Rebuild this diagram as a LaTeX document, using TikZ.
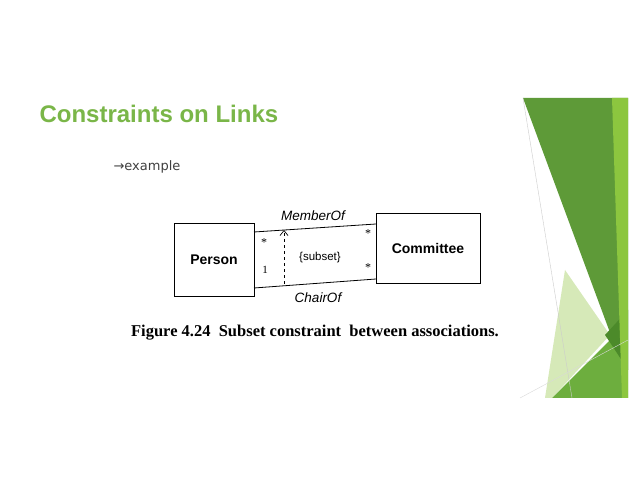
\documentclass[tikz,border=0pt]{standalone}
\usepackage{fontspec}
\usetikzlibrary{arrows.meta}
\setmainfont{Liberation Serif}
\setsansfont{Liberation Sans}
\newfontfamily\djfont{DejaVu Sans}
\definecolor{gdark}{HTML}{5E9A38}
\definecolor{gmid}{HTML}{6DAE3E}
\definecolor{glime}{HTML}{8CC63F}
\definecolor{gpale}{HTML}{D6E9B8}
\definecolor{gdeep}{HTML}{4C8A2A}
\definecolor{gtitle}{HTML}{7AB648}
\begin{document}
\begin{tikzpicture}[x=1pt,y=-1pt,
  box/.style={draw,line width=0.9pt,inner sep=0pt},
  lbl/.style={font=\sffamily\itshape\fontsize{13.5}{15}\selectfont},
  mult/.style={font=\fontsize{12}{13}\selectfont}]
\useasboundingbox (0,0) rectangle (638,478);
\fill[white] (0,0) rectangle (638,478);
% decorative panel
\fill[gpale] (565,270) -- (610,335) -- (552,398) -- (545,398) -- cycle;
\fill[gdark] (523,98) -- (628,98) -- (628,370) -- (612,338) -- cycle;
\fill[gmid] (552,398) -- (612,338) -- (628,370) -- (628,398) -- cycle;
\fill[gdeep] (605,335) -- (628,310) -- (628,370) -- (615,350) -- cycle;
\fill[glime] (612,98) -- (628,98) -- (628,398) -- (622,398) -- cycle;
\draw[black!20] (523,98) -- (572,398);
\draw[black!15] (520,398) -- (628,340);
% title
\node[anchor=west,font=\sffamily\bfseries\fontsize{24}{28}\selectfont,text=gtitle] (title) at (36,114) {Constraints on Links};
\node[anchor=west,font=\djfont\fontsize{13}{15}\selectfont,text=black!75] (ex) at (110,167) {→example};
% diagram
\node[box,minimum width=80pt,minimum height=73pt] (person) at (214,260) {\sffamily\bfseries\fontsize{14}{16}\selectfont Person};
\node[box,minimum width=104pt,minimum height=70pt] (comm) at (428,248) {\sffamily\bfseries\fontsize{14}{16}\selectfont Committee};
\coordinate (p1) at (254,232); \coordinate (c1) at (376,224);
\coordinate (p2) at (254,288); \coordinate (c2) at (376,279);
\draw[line width=0.8pt] (p1) -- (c1);
\draw[line width=0.8pt] (p2) -- (c2);
\coordinate (a0) at (284,284); \coordinate (a1) at (284,230);
\draw[dashed,line width=0.7pt,-{Straight Barb[length=5pt,width=8pt]}] (a0) -- (a1);
\node[lbl] (mo) at (313,216) {MemberOf};
\node[lbl] (co) at (318,298) {ChairOf};
\node[font=\sffamily\fontsize{11.5}{13}\selectfont] (sub) at (320,258) {\{subset\}};
\node[mult] (s1) at (264,243) {*};
\node[mult] (s2) at (368,234) {*};
\node[mult] (s3) at (368,268) {*};
\node[font=\fontsize{11}{12}\selectfont] (one) at (265,270) {1};
\node[font=\bfseries\fontsize{16.5}{18}\selectfont] (cap) at (315,333) {Figure 4.24\ \ Subset constraint\ \ between associations.};
\end{tikzpicture}
\end{document}
